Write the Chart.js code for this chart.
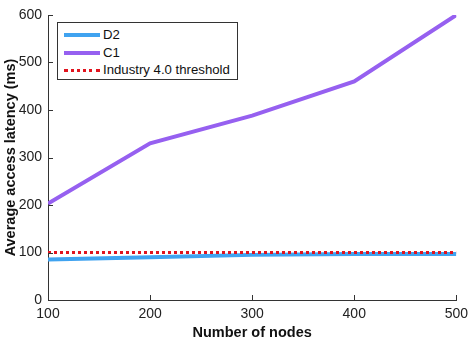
<!DOCTYPE html>
<html>
<head>
<meta charset="utf-8">
<script src="https://cdn.jsdelivr.net/npm/chart.js@4/dist/chart.umd.min.js"></script>
<style>
  body { margin: 0; background: #fff; }
  #wrap { position: relative; width: 474px; height: 362px; }
  #legend {
    position: absolute; left: 57px; top: 22px; width: 179px; height: 56px;
    border: 1px solid #333; background: #fff;
    font-family: "Liberation Sans", Arial, sans-serif; font-size: 13.2px; color: #111;
  }
  .item { position: absolute; left: 6px; height: 16px; line-height: 16px; }
  .item span.swatch { position: absolute; left: 0; top: 7px; width: 36px; height: 0; }
  .item span.txt { position: absolute; left: 39px; white-space: nowrap; }
</style>
</head>
<body>
<div id="wrap">
  <canvas id="latencyChart" width="474" height="362"></canvas>
  <div id="legend"></div>
</div>
<script>
// data
let nodeCounts = [100, 200, 300, 400, 500];
let d2Latency = [85, 90, 95, 97, 97];
let c1Latency = [203, 330, 388, 460, 600];
let thresholdLatency = [100, 100, 100, 100, 100];
let xTicks = [100, 200, 300, 400, 500];
let yTicks = [0, 100, 200, 300, 400, 500, 600];

const toPoints = (ys) => nodeCounts.map((x, i) => ({ x: x, y: ys[i] }));

// short inward tick marks like matlab
const innerTicks = {
    id: 'innerTicks',
    afterDraw: (chart) => {
        const ctx = chart.ctx;
        const xs = chart.scales.x;
        const ys = chart.scales.y;
        ctx.save();
        ctx.strokeStyle = '#333';
        ctx.lineWidth = 1;
        ctx.beginPath();
        xTicks.forEach(v => {
            const px = Math.round(xs.getPixelForValue(v)) + 0.5;
            ctx.moveTo(px, ys.bottom);
            ctx.lineTo(px, ys.bottom - 5);
        });
        yTicks.forEach(v => {
            const py = Math.round(ys.getPixelForValue(v)) + 0.5;
            ctx.moveTo(xs.left, py);
            ctx.lineTo(xs.left + 5, py);
        });
        ctx.stroke();
        ctx.restore();
    }
};

const ctxL = document.getElementById('latencyChart').getContext('2d');
const myLineChart = new Chart(ctxL, {
    type: 'line',
    data: {
        datasets: [{
            label: 'D2',
            data: toPoints(d2Latency),
            borderColor: 'rgb(64, 163, 240)',
            borderWidth: 4,
            pointRadius: 0,
            order: 2
        },
        {
            label: 'C1',
            data: toPoints(c1Latency),
            borderColor: 'rgb(150, 96, 240)',
            borderWidth: 4,
            pointRadius: 0,
            order: 1
        },
        {
            label: 'Industry 4.0 threshold',
            data: toPoints(thresholdLatency),
            borderColor: 'rgb(225, 20, 30)',
            borderWidth: 3,
            borderDash: [3, 3],
            pointRadius: 0,
            order: 0
        }]
    },
    plugins: [innerTicks],
    options: {
        responsive: false,
        animation: false,
        layout: { padding: { left: 0, right: 12, top: 15, bottom: 16 } },
        plugins: { legend: { display: false }, tooltip: { enabled: false } },
        scales: {
            x: {
                type: 'linear',
                min: 100,
                max: 500,
                afterBuildTicks: (s) => { s.ticks = xTicks.map(v => ({ value: v })); },
                afterFit: (s) => { s.height = 46; },
                grid: { drawOnChartArea: false, drawTicks: false },
                border: { display: true, color: '#333', width: 1 },
                ticks: { padding: 6, color: '#222', font: { family: 'Liberation Sans', size: 14 } },
                title: { display: true, text: 'Number of nodes', color: '#111', padding: { top: 2 },
                    font: { family: 'Liberation Sans', size: 14.5, weight: 'bold' } }
            },
            y: {
                min: 0,
                max: 600,
                afterBuildTicks: (s) => { s.ticks = yTicks.map(v => ({ value: v })); },
                afterFit: (s) => { s.width = 48; },
                grid: { drawOnChartArea: false, drawTicks: false },
                border: { display: true, color: '#333', width: 1 },
                ticks: { padding: 6, color: '#222', font: { family: 'Liberation Sans', size: 14 } },
                title: { display: true, text: 'Average access latency (ms)', color: '#111', padding: { top: 2, bottom: 0 },
                    font: { family: 'Liberation Sans', size: 14.5, weight: 'bold' } }
            }
        }
    }
});

// legend inside the axes, built from the datasets
const legendEl = document.getElementById('legend');
myLineChart.data.datasets.forEach((ds, i) => {
    const row = document.createElement('div');
    row.className = 'item';
    row.style.top = (4 + i * 17.5) + 'px';
    const sw = document.createElement('span');
    sw.className = 'swatch';
    sw.style.borderTop = (ds.borderDash ? '3px dotted ' : '4px solid ') + ds.borderColor;
    sw.style.top = ds.borderDash ? '7px' : '6px';
    const txt = document.createElement('span');
    txt.className = 'txt';
    txt.textContent = ds.label;
    row.appendChild(sw);
    row.appendChild(txt);
    legendEl.appendChild(row);
});
</script>
</body>
</html>
